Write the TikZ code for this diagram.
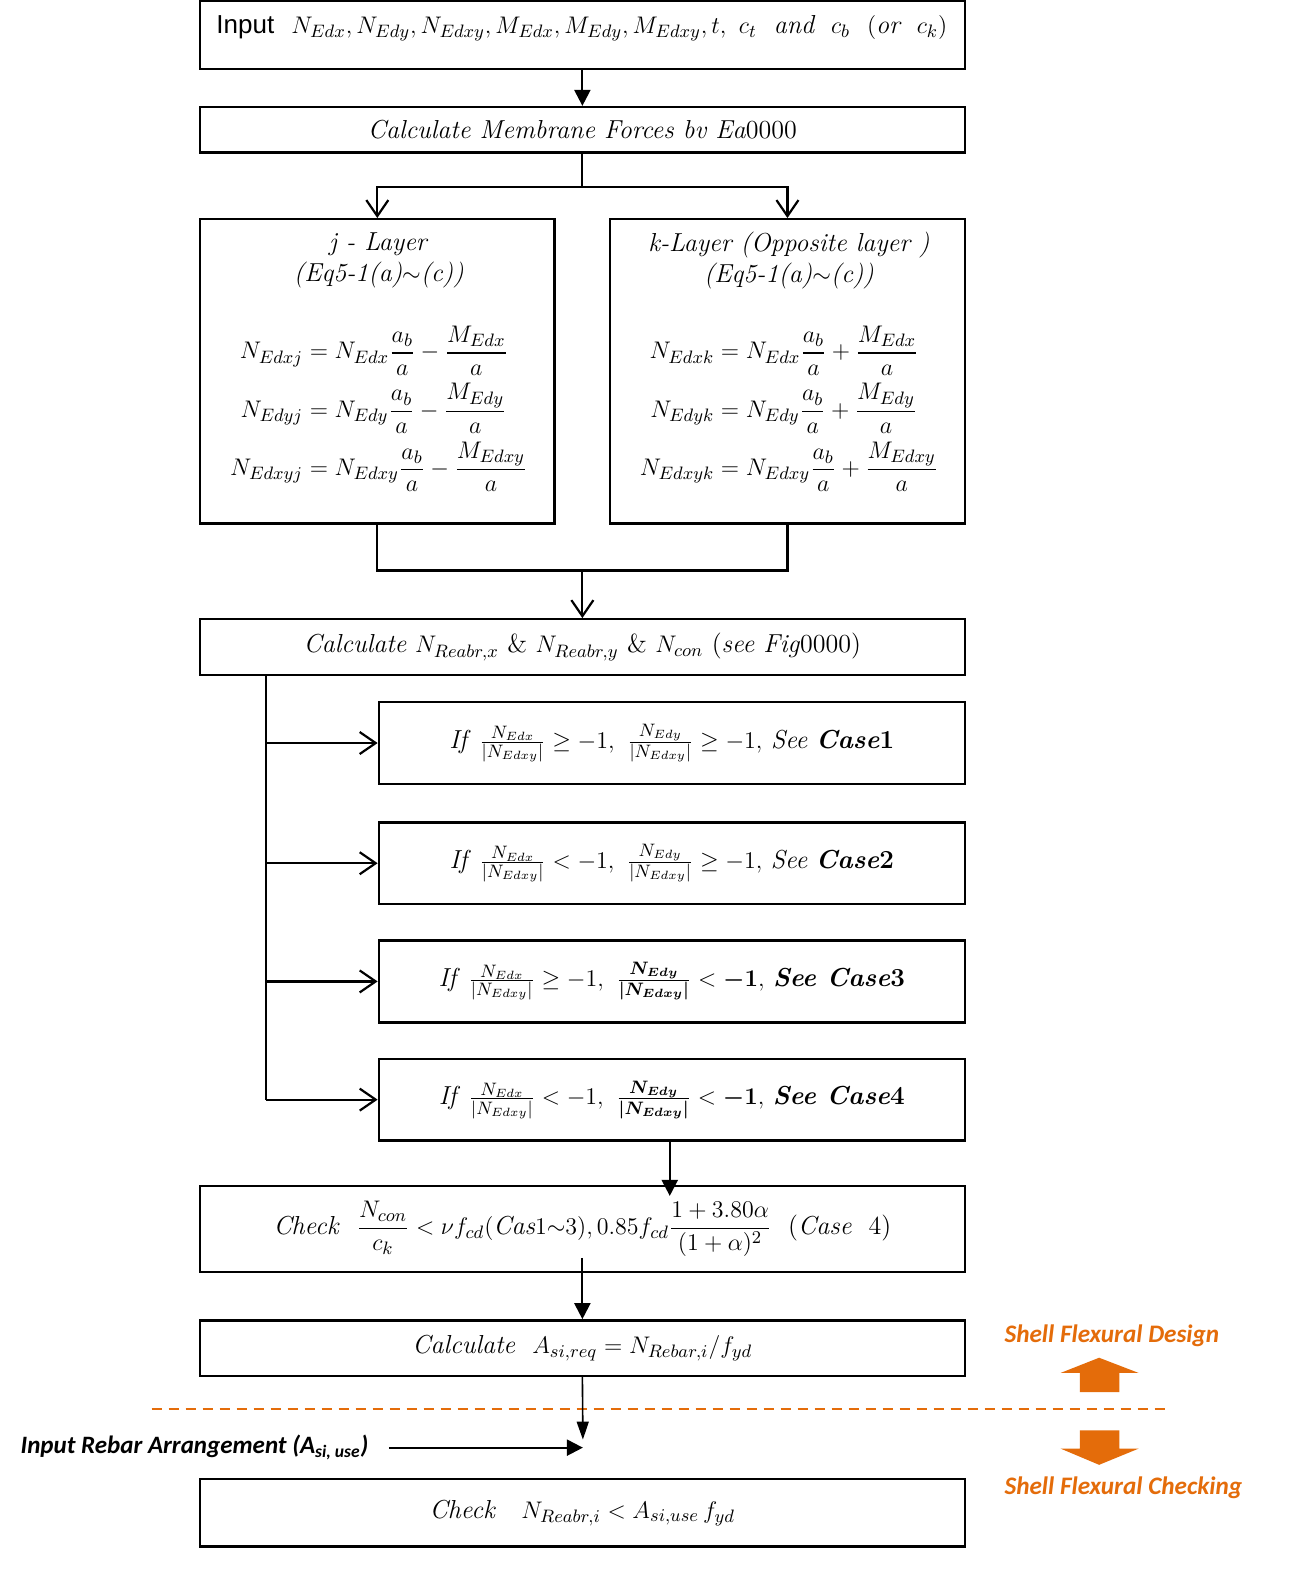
\documentclass[tikz,border=0pt]{standalone}
\usepackage{amsmath,amssymb}
\usepackage{fontspec}
\newfontfamily\arialf{Liberation Sans}
\newfontfamily\calib{Carlito}
\usetikzlibrary{arrows.meta,calc}
\definecolor{og}{RGB}{228,108,10}
\begin{document}
\begin{tikzpicture}[x=0.505pt,y=-0.505pt,
  box/.style={draw, line width=1.2pt, inner sep=0pt},
  wh/.style 2 args={minimum width=#1*0.505pt, minimum height=#2*0.505pt},
  tx/.style={font=\fontsize{13}{15.6}\selectfont, inner sep=0pt},
  con/.style={line width=1.1pt},
  oa/.style={con, -{Straight Barb[length=8pt,width=11pt,line width=1.1pt]}},
  fa/.style={con, -{Triangle[length=8pt,width=8pt]}},
  ta/.style={line width=0.8pt, -{Triangle[length=9pt,width=6pt]}},
  ol/.style={font=\calib\bfseries\itshape\fontsize{12.6}{14}\selectfont, text=og, inner sep=0pt},
  rb/.style={font=\calib\bfseries\itshape\fontsize{12.5}{14}\selectfont, inner sep=0pt}]
\useasboundingbox (0,0) rectangle (1287,1567);
\fill[white] (0,0) rectangle (1287,1567);

% top boxes
\node[box, wh={757}{67}] (in) at (576.5,34.5) {};
\node[tx] (inT) at (576,28) {{\arialf Input}\ \ $N_{Edx},N_{Edy},N_{Edxy},M_{Edx},M_{Edy},M_{Edxy},t,\ c_t\ \ \textit{and}\ \ c_b\ \ (\textit{or}\ \ c_k)$};
\node[box, tx, wh={757}{45}] (mem) at (576.5,128.5) {\textit{Calculate Membrane Forces bv Ea}0000};

% layer boxes
\node[box, wh={351}{301}] (j) at (373.5,367.5) {};
\node[box, wh={351}{301}] (k) at (779.5,367.5) {};
\node[tx, align=center] (jT) at (375,258) {\textit{j - Layer}\\\textit{(Eq5-1(a)}$\sim$\textit{(c))}};
\node[tx, align=center] (kT) at (781,258) {\textit{k-Layer (Opposite layer )}\\\textit{(Eq5-1(a)}$\sim$\textit{(c))}};
\node[tx] (jE) at (375,405) {$\begin{aligned}N_{Edxj}&=N_{Edx}\frac{a_b}{a}-\frac{M_{Edx}}{a}\\[0pt]N_{Edyj}&=N_{Edy}\frac{a_b}{a}-\frac{M_{Edy}}{a}\\[0pt]N_{Edxyj}&=N_{Edxy}\frac{a_b}{a}-\frac{M_{Edxy}}{a}\end{aligned}$};
\node[tx] (kE) at (781,405) {$\begin{aligned}N_{Edxk}&=N_{Edx}\frac{a_b}{a}+\frac{M_{Edx}}{a}\\[0pt]N_{Edyk}&=N_{Edy}\frac{a_b}{a}+\frac{M_{Edy}}{a}\\[0pt]N_{Edxyk}&=N_{Edxy}\frac{a_b}{a}+\frac{M_{Edxy}}{a}\end{aligned}$};

\node[box, tx, wh={757}{55}] (calcN) at (576.5,640.5) {\textit{Calculate} $N_{Reabr,x}$ \& $N_{Reabr,y}$ \& $N_{con}$ (\textit{see Fig}0000)};

% cases
\node[box, tx, wh={580}{81}] (c1) at (665,735.5) {\textit{If}\ $\frac{N_{Edx}}{\lvert N_{Edxy}\rvert}\geq-1,\ \frac{N_{Edy}}{\lvert N_{Edxy}\rvert}\geq-1,$ \textit{See} \textbf{\textit{Case}1}};
\node[box, tx, wh={580}{81}] (c2) at (665,854.5) {\textit{If}\ $\frac{N_{Edx}}{\lvert N_{Edxy}\rvert}<-1,\ \frac{N_{Edy}}{\lvert N_{Edxy}\rvert}\geq-1,$ \textit{See} \textbf{\textit{Case}2}};
\node[box, tx, wh={580}{81}] (c3) at (665,971.5) {\textit{If}\ $\frac{N_{Edx}}{\lvert N_{Edxy}\rvert}\geq-1,\ \frac{\boldsymbol{N_{Edy}}}{\boldsymbol{\lvert N_{Edxy}\rvert}}<\boldsymbol{-1},$ \textbf{\textit{See Case}3}};
\node[box, tx, wh={580}{81}] (c4) at (665,1088.5) {\textit{If}\ $\frac{N_{Edx}}{\lvert N_{Edxy}\rvert}<-1,\ \frac{\boldsymbol{N_{Edy}}}{\boldsymbol{\lvert N_{Edxy}\rvert}}<\boldsymbol{-1},$ \textbf{\textit{See Case}4}};

\node[box, tx, wh={757}{85}] (chk) at (576.5,1216.5) {\textit{Check}\ \ $\displaystyle\frac{N_{con}}{c_k}<\nu f_{cd}(\mathit{Cas}1{\sim}3),0.85f_{cd}\frac{1+3.80\alpha}{(1+\alpha)^2}$\ \ (\textit{Case}\ \ 4)};
\node[box, tx, wh={757}{55}] (asi) at (576.5,1334.5) {\textit{Calculate}\ \ $A_{si,req}=N_{Rebar,i}/f_{yd}$};
\node[box, tx, wh={757}{67}] (fin) at (576.5,1497.5) {\textit{Check}\ \ \ $N_{Reabr,i}<A_{si,use}\,f_{yd}$};

% connectors
\draw[fa] (in.south) -- (mem.north);
\coordinate (br) at ($(mem.south)+(0,33)$);
\draw[con] (mem.south) -- (br);
\draw[oa] (br) -| (j.north);
\draw[oa] (br) -| (k.north);
\coordinate (mg) at ($(calcN.north)+(0,-47)$);
\draw[con] (j.south) |- (mg) -| (k.south);
\draw[oa] (mg) -- (calcN.north);

\coordinate (tx) at (263,0);
\draw[con] (calcN.south -| tx) -- (c4.west -| tx);
\draw[oa] (c1.west -| tx) -- (c1.west);
\draw[oa] (c2.west -| tx) -- (c2.west);
\draw[oa] (c3.west -| tx) -- (c3.west);
\draw[oa] (c4.west -| tx) -- (c4.west);

\coordinate (ax) at (663,0);
\draw[fa] (c4.south -| ax) -- ($(chk.north -| ax)+(0,11)$);
\draw[fa] ($(chk.south)+(0,-15)$) -- (asi.north);

% design / checking separation
\draw[og, line width=1pt, dash pattern=on 5pt off 3.5pt] (150,1395) -- (1155,1395);
\node[rb, anchor=west] (rebar) at (20,1433) {Input Rebar Arrangement (A\textsubscript{si, use})};
\coordinate (mj) at (577,1433);
\draw[ta] (asi.south) -- ($(mj)+(0,-8)$);
\draw[fa] ([xshift=10pt]rebar.east) -- (mj);

\node[ol, anchor=base west] (sfd) at (994,1329) {Shell Flexural Design};
\node[ol, anchor=base west] (sfc) at (994,1479) {Shell Flexural Checking};
\fill[og] (1088,1344) -- (1127,1359) -- (1108,1359) -- (1108,1378) -- (1069,1378) -- (1069,1359) -- (1050,1359) -- cycle;
\fill[og] (1069,1416) -- (1108,1416) -- (1108,1434) -- (1127,1434) -- (1088,1450) -- (1050,1434) -- (1069,1434) -- cycle;
\end{tikzpicture}
\end{document}
